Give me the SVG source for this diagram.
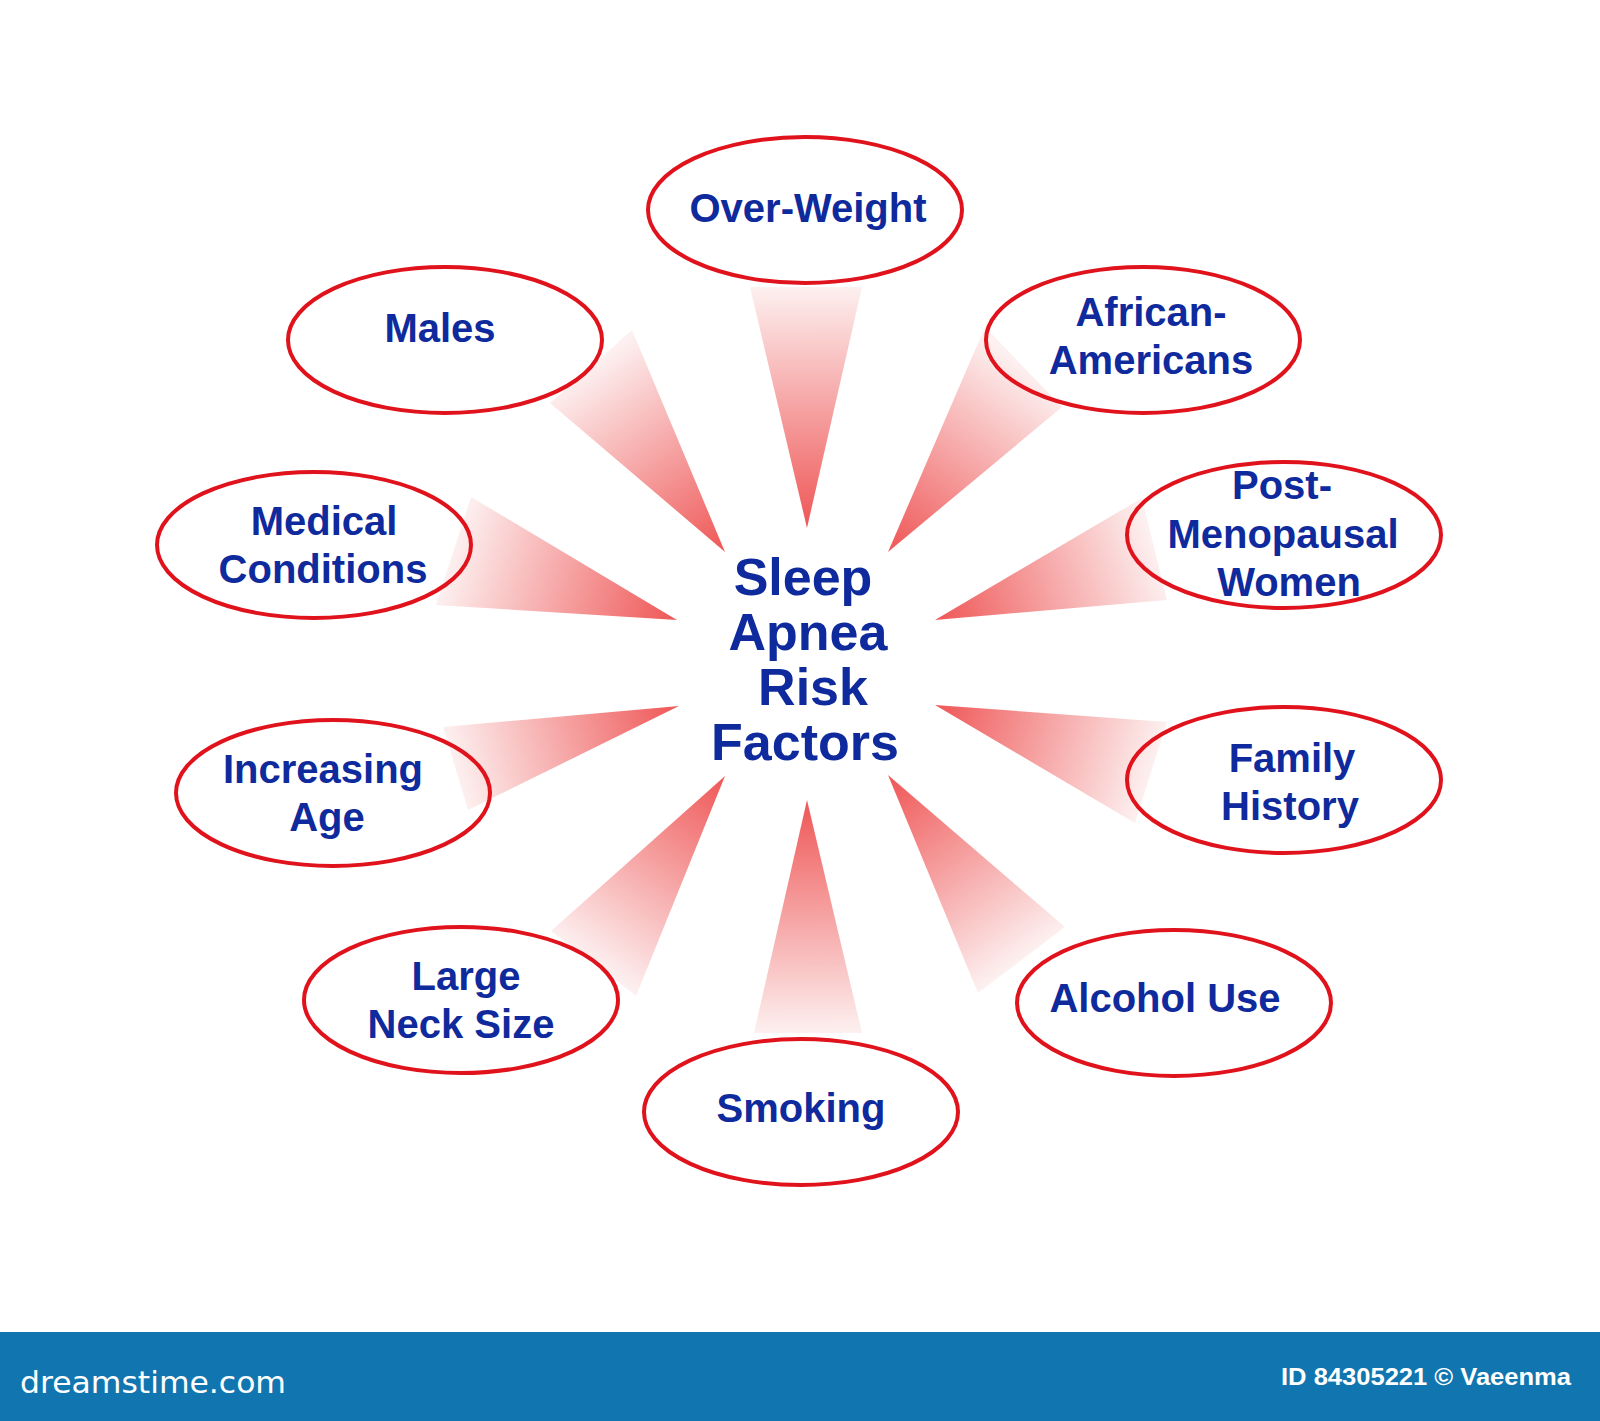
<svg xmlns="http://www.w3.org/2000/svg" width="1600" height="1421" viewBox="0 0 1600 1421">
<style>
.node ellipse{fill:none;stroke:#e0121c;stroke-width:4}
.lbl{font-family:"Liberation Sans",Arial,sans-serif;font-weight:bold;font-size:40px;fill:#0f2a9c;text-anchor:middle}
.title{font-size:52px}
.spike{stroke:none}
.s0{stop-color:#fdf0f0}
.s1{stop-color:#ef5656}
</style>
<defs>
<linearGradient id="g1" gradientUnits="userSpaceOnUse" x1="806" y1="287" x2="807" y2="528"><stop offset="0" class="s0"/><stop offset="1" class="s1"/></linearGradient>
<linearGradient id="g2" gradientUnits="userSpaceOnUse" x1="1023" y1="367" x2="888" y2="552"><stop offset="0" class="s0"/><stop offset="1" class="s1"/></linearGradient>
<linearGradient id="g3" gradientUnits="userSpaceOnUse" x1="1154" y1="549" x2="935" y2="620"><stop offset="0" class="s0"/><stop offset="1" class="s1"/></linearGradient>
<linearGradient id="g4" gradientUnits="userSpaceOnUse" x1="1151" y1="772" x2="935" y2="705"><stop offset="0" class="s0"/><stop offset="1" class="s1"/></linearGradient>
<linearGradient id="g5" gradientUnits="userSpaceOnUse" x1="1021" y1="960" x2="888" y2="775"><stop offset="0" class="s0"/><stop offset="1" class="s1"/></linearGradient>
<linearGradient id="g6" gradientUnits="userSpaceOnUse" x1="808" y1="1033" x2="807" y2="800"><stop offset="0" class="s0"/><stop offset="1" class="s1"/></linearGradient>
<linearGradient id="g7" gradientUnits="userSpaceOnUse" x1="593" y1="963" x2="725" y2="776"><stop offset="0" class="s0"/><stop offset="1" class="s1"/></linearGradient>
<linearGradient id="g8" gradientUnits="userSpaceOnUse" x1="455" y1="768" x2="679" y2="706"><stop offset="0" class="s0"/><stop offset="1" class="s1"/></linearGradient>
<linearGradient id="g9" gradientUnits="userSpaceOnUse" x1="453" y1="551" x2="677" y2="620"><stop offset="0" class="s0"/><stop offset="1" class="s1"/></linearGradient>
<linearGradient id="g10" gradientUnits="userSpaceOnUse" x1="591" y1="366" x2="725" y2="552"><stop offset="0" class="s0"/><stop offset="1" class="s1"/></linearGradient>
</defs>
<rect x="0" y="0" width="1600" height="1421" fill="#fff"/>
<g id="connectors">
<polygon class="spike" fill="url(#g1)" points="750,287 862,287 807,528"/>
<polygon class="spike" fill="url(#g2)" points="985,327 1062,407 888,552"/>
<polygon class="spike" fill="url(#g3)" points="1142,498 1167,600 935,620"/>
<polygon class="spike" fill="url(#g4)" points="1167,722 1135,823 935,705"/>
<polygon class="spike" fill="url(#g5)" points="1065,927 978,993 888,775"/>
<polygon class="spike" fill="url(#g6)" points="862,1033 754,1033 807,800"/>
<polygon class="spike" fill="url(#g7)" points="636,996 551,931 725,776"/>
<polygon class="spike" fill="url(#g8)" points="468,810 443,727 679,706"/>
<polygon class="spike" fill="url(#g9)" points="436,605 471,497 677,620"/>
<polygon class="spike" fill="url(#g10)" points="550,403 632,330 725,552"/>
</g>
<g id="center">
<text class="lbl title" x="803" y="595">Sleep</text>
<text class="lbl title" x="808" y="650">Apnea</text>
<text class="lbl title" x="813" y="705">Risk</text>
<text class="lbl title" x="805" y="760">Factors</text>
</g>
<g id="overweight" class="node"><ellipse cx="805" cy="210" rx="157" ry="73"/><text class="lbl" x="808" y="222">Over-Weight</text></g>
<g id="males" class="node"><ellipse cx="445" cy="340" rx="157" ry="73"/><text class="lbl" x="440" y="342">Males</text></g>
<g id="african" class="node"><ellipse cx="1143" cy="340" rx="157" ry="73"/><text class="lbl" x="1151" y="326">African-</text><text class="lbl" x="1151" y="374">Americans</text></g>
<g id="medical" class="node"><ellipse cx="314" cy="545" rx="157" ry="73"/><text class="lbl" x="324" y="535">Medical</text><text class="lbl" x="323" y="583">Conditions</text></g>
<g id="postmeno" class="node"><ellipse cx="1284" cy="535" rx="157" ry="73"/><text class="lbl" x="1282" y="499">Post-</text><text class="lbl" x="1283" y="548">Menopausal</text><text class="lbl" x="1289" y="596">Women</text></g>
<g id="age" class="node"><ellipse cx="333" cy="793" rx="157" ry="73"/><text class="lbl" x="323" y="783">Increasing</text><text class="lbl" x="327" y="831">Age</text></g>
<g id="family" class="node"><ellipse cx="1284" cy="780" rx="157" ry="73"/><text class="lbl" x="1292" y="772">Family</text><text class="lbl" x="1290" y="820">History</text></g>
<g id="neck" class="node"><ellipse cx="461" cy="1000" rx="157" ry="73"/><text class="lbl" x="466" y="990">Large</text><text class="lbl" x="461" y="1038">Neck Size</text></g>
<g id="alcohol" class="node"><ellipse cx="1174" cy="1003" rx="157" ry="73"/><text class="lbl" x="1165" y="1012">Alcohol Use</text></g>
<g id="smoking" class="node"><ellipse cx="801" cy="1112" rx="157" ry="73"/><text class="lbl" x="801" y="1122">Smoking</text></g>
<g id="footer">
<rect x="0" y="1332" width="1600" height="89" fill="#1176b0"/>
<text x="20" y="1393" font-family="'DejaVu Sans',sans-serif" font-size="31" fill="#fff" textLength="266" lengthAdjust="spacingAndGlyphs">dreamstime.com</text>
<text x="1281" y="1385" font-family="'Liberation Sans',Arial,sans-serif" font-weight="bold" font-size="24" fill="#fff" textLength="290" lengthAdjust="spacingAndGlyphs">ID 84305221 © Vaeenma</text>
</g>
</svg>
